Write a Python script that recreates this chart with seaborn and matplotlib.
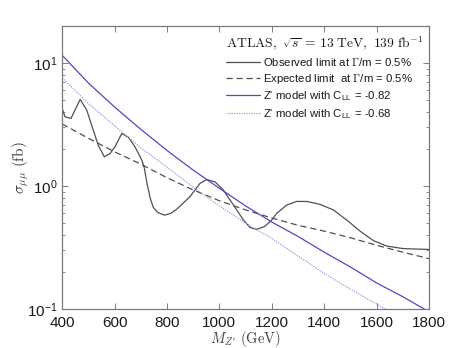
import numpy as np
import pandas as pd
import matplotlib
matplotlib.use("Agg")
import matplotlib.pyplot as plt
import seaborn as sns
from matplotlib.lines import Line2D
from matplotlib.ticker import FixedLocator, LogLocator, NullFormatter

# ---------------- data ----------------
obs_mass = [396, 411, 434, 469, 494, 519, 538, 561, 583, 602, 628, 653, 678, 704, 714,
            724, 736, 748, 765, 790, 815, 838, 888, 926, 952, 984, 1015, 1054, 1092, 1117, 1143, 1174,
            1200, 1219, 1257, 1295, 1334, 1384, 1435, 1486, 1537, 1588, 1639, 1702, 1800]
obs_sigma = [4.56, 3.66, 3.55, 5.07, 4.15, 2.85, 2.15, 1.73, 1.84, 2.09, 2.68, 2.49, 2.09, 1.63, 1.40,
             1.05, 0.80, 0.67, 0.61, 0.58, 0.60, 0.65, 0.82, 1.05, 1.13, 1.08, 0.93, 0.70, 0.53, 0.46, 0.445, 0.47,
             0.53, 0.60, 0.70, 0.75, 0.75, 0.71, 0.64, 0.53, 0.43, 0.36, 0.325, 0.31, 0.305]

grid_mass = [400, 500, 600, 700, 800, 900, 1000, 1100, 1200, 1300, 1400, 1500, 1600, 1700, 1800]
exp_sigma = [3.2, 2.45, 1.9, 1.51, 1.17, 0.93, 0.76, 0.64, 0.55, 0.48, 0.43, 0.38, 0.33, 0.29, 0.257]
zp082_sigma = [11.6, 6.9, 4.4, 2.9, 1.95, 1.35, 0.96, 0.69, 0.51, 0.39, 0.29, 0.22, 0.163, 0.126, 0.095]
zp068_sigma = [7.6, 4.7, 3.1, 2.05, 1.43, 0.98, 0.69, 0.50, 0.376, 0.27, 0.195, 0.145, 0.11, 0.082, 0.063]

xticks = [400, 600, 800, 1000, 1200, 1400, 1600, 1800]
yticks = [0.1, 1, 10]
ytick_labels = [r"$\mathregular{10^{-1}}$", r"$\mathregular{10^{0}}$", r"$\mathregular{10^{1}}$"]

labels = [r"Observed limit at $\Gamma$/m = 0.5%",
          r"Expected limit  at $\Gamma$/m = 0.5%",
          r"Z' model with C$_\mathregular{LL}$ = -0.82",
          r"Z' model with C$_\mathregular{LL}$ = -0.68"]
legend_title = r"$\mathrm{ATLAS,}\ \sqrt{s}\,=\,13\ \mathrm{TeV,\ 139\ fb}^{-1}$"

# ---------------- style ----------------
sns.set_theme(style="white")
plt.rcParams["font.family"] = ["Liberation Sans", "DejaVu Sans"]
plt.rcParams["mathtext.fontset"] = "cm"

c_obs = "#505050"
c_exp = "#505050"
c_blue = "#4b4bc8"
c_light = "#9a9ae6"

fig = plt.figure(figsize=(4.74, 3.48), dpi=100)
ax = fig.add_axes([0.131, 0.112, 0.774, 0.813])

df_obs = pd.DataFrame({"m": obs_mass, "s": obs_sigma})
df_grid = pd.DataFrame({"m": grid_mass, "exp": exp_sigma, "z1": zp082_sigma, "z2": zp068_sigma})

sns.lineplot(data=df_obs, x="m", y="s", ax=ax, color=c_obs, lw=0.9, sort=False, estimator=None)
sns.lineplot(data=df_grid, x="m", y="exp", ax=ax, color=c_exp, lw=0.9, ls=(0, (5, 3)), estimator=None)
sns.lineplot(data=df_grid, x="m", y="z1", ax=ax, color=c_blue, lw=0.9, estimator=None)
sns.lineplot(data=df_grid, x="m", y="z2", ax=ax, color=c_light, lw=0.9, ls=(0, (1, 1)), estimator=None)

ax.set_yscale("log")
ax.set_xlim(400, 1800)
ax.set_ylim(0.1, 20)

ax.xaxis.set_major_locator(FixedLocator(xticks))
ax.set_xticklabels([str(v) for v in xticks])
ax.yaxis.set_major_locator(FixedLocator(yticks))
ax.set_yticklabels(ytick_labels)
ax.yaxis.set_minor_locator(LogLocator(base=10, subs=np.arange(2, 10)))
ax.yaxis.set_minor_formatter(NullFormatter())

for sp in ax.spines.values():
    sp.set_color("#7a7a7a")
    sp.set_linewidth(0.9)

ax.tick_params(axis="both", which="both", direction="in", top=True, right=True,
               colors="#7a7a7a", labelcolor="#1a1a1a", labelsize=11)
ax.tick_params(which="major", length=4, width=0.7, bottom=True, left=True)
ax.tick_params(which="minor", length=2.5, width=0.6, left=True)
ax.tick_params(axis="x", pad=5)
ax.tick_params(axis="y", pad=3)

ax.set_xlabel(r"$M_{Z'}\ \mathrm{(GeV)}$", fontsize=10.5, color="#404040")
ax.set_ylabel(r"$\sigma_{\mu\mu}\ \mathrm{(fb)}$", fontsize=11, color="#404040")
ax.xaxis.set_label_coords(0.5, -0.07)
ax.yaxis.set_label_coords(-0.085, 0.5)

handles = [Line2D([], [], color=c_obs, lw=0.9),
           Line2D([], [], color=c_exp, lw=0.9, ls=(0, (5, 3))),
           Line2D([], [], color=c_blue, lw=0.9),
           Line2D([], [], color=c_light, lw=0.9, ls=(0, (1, 1)))]

ax.text(0.447, 0.94, legend_title, transform=ax.transAxes, fontsize=9.8,
        color="#1a1a1a", ha="left", va="center")

leg = ax.legend(handles, labels, loc="upper left",
                bbox_to_anchor=(0.447, 0.895), frameon=False, fontsize=8.2,
                handlelength=3.0, handletextpad=0.25, labelspacing=0.33,
                borderaxespad=0.0, borderpad=0.0)
for t in leg.get_texts():
    t.set_color("#1a1a1a")

fig.savefig("out.png", dpi=100)
